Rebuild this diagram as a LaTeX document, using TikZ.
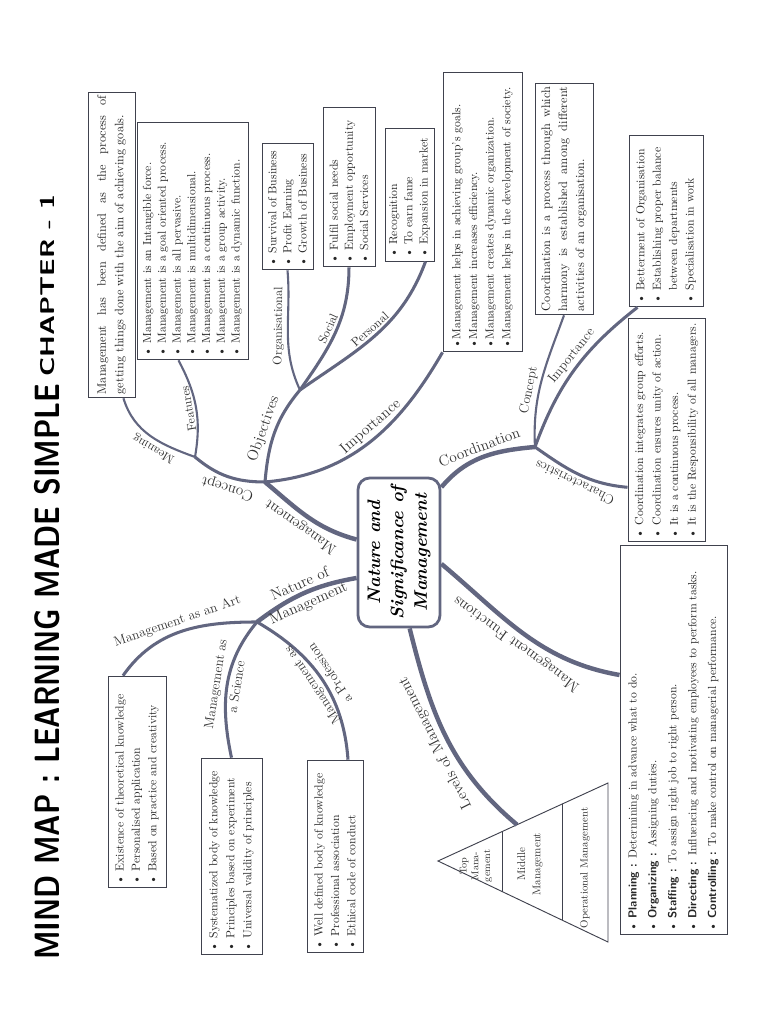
\documentclass[tikz,border=0pt]{standalone}
\usepackage{tikz}
\usetikzlibrary{calc}

\definecolor{branchgray}{RGB}{98,102,128}
\definecolor{boxgray}{RGB}{64,66,78}
\newcommand{\bpt}{\textbullet\ }

\begin{document}
\begin{tikzpicture}[x=0.3mm, y=0.3mm,
    mainbranch/.style={draw=branchgray, line width=3.8pt},
    subbranch/.style={draw=branchgray, line width=2.6pt},
    leafbranch/.style={draw=branchgray, line width=1.8pt},
    infobox/.style={draw=boxgray, line width=0.8pt, fill=white, inner sep=3pt,
        align=left, text=black!85},
    brlabel/.style={sloped, text=black!80, inner sep=2.5pt, font=\fontsize{13}{14}\selectfont},
    sublabel/.style={sloped, text=black!80, inner sep=2.5pt, font=\fontsize{11.5}{13}\selectfont},
    leaflabel/.style={sloped, text=black!80, inner sep=2pt, font=\fontsize{10.5}{12}\selectfont}]

\begin{scope}[rotate=90, transform shape]
\useasboundingbox (0,0) rectangle (1024,768);

% Title
\node[anchor=west, inner sep=0pt, font=\fontsize{30}{32}\sffamily\bfseries] (title) at (64,721)
    {\scalebox{0.83}[1]{MIND MAP : LEARNING MADE SIMPLE}};
\node[anchor=west, inner sep=0pt, font=\fontsize{17}{19}\sffamily\bfseries] (chapter) at ($(title.east)+(6,0)$)
    {\scalebox{1.38}[1]{CHAPTER - 1}};

% Centre
\node[draw=branchgray, line width=2.4pt, rounded corners=10, fill=white, minimum width=44.7mm,
    minimum height=24.6mm, align=center, font=\fontsize{15.5}{20}\selectfont\bfseries\itshape]
    (nsm) at (471.5,369) {Nature and\\Significance of\\Management};

% Concept of management
\node[infobox, align=justify, text width=89.6mm, minimum height=14.1mm, font=\fontsize{10.5}{15}\selectfont]
    (meaning) at (779,656.5) {Management has been defined as the process of\linebreak
    getting things done with the aim of achieving goals.};
\node[infobox, text width=69.2mm, minimum height=33.3mm, font=\fontsize{10}{12.6}\selectfont]
    (features) at (783,575.5) {\bpt Management is an Intangible force.\\
    \bpt Management is a goal oriented process.\\
    \bpt Management is all pervasive.\\
    \bpt Management is multidimensional.\\
    \bpt Management is a continuous process.\\
    \bpt Management is a group activity.\\
    \bpt Management is a dynamic function.};
\node[infobox, text width=35.9mm, minimum height=15.3mm, font=\fontsize{10}{13}\selectfont]
    (orgbox) at (817.5,480.5) {\bpt Survival of Business\\\bpt Profit Earning\\\bpt Growth of Business};
\node[infobox, text width=45.8mm, minimum height=15.6mm, font=\fontsize{10}{13}\selectfont]
    (socialbox) at (837,419) {\bpt Fulfil social needs\\\bpt Employment opportunity\\\bpt Social Services};
\node[infobox, text width=37.6mm, minimum height=14.7mm, font=\fontsize{10}{13}\selectfont]
    (personalbox) at (829,358.5) {\bpt Recognition\\\bpt To earn fame\\\bpt Expansion in market};
\node[infobox, text width=81.8mm, minimum height=23.7mm, font=\fontsize{10}{14.2}\selectfont]
    (impbox) at (812,285.5) {\textbullet Management helps in achieving group's goals.\\
    \textbullet Management increases efficiency.\\
    \textbullet Management creates dynamic organization.\\
    \textbullet Management helps in the development of society.};

% Coordination
\node[infobox, align=justify, text width=67.4mm, minimum height=17.4mm, font=\fontsize{10.5}{14.5}\selectfont]
    (cconcept) at (825,204) {Coordination is a process through which\linebreak
    harmony is established among different\linebreak activities of an organisation.};
\node[infobox, text width=49.4mm, minimum height=22.2mm, font=\fontsize{10}{14}\selectfont]
    (cimp) at (803,102) {\bpt Betterment of Organisation\\\bpt Establishing proper balance\\
    \phantom{\bpt}between departments\\\bpt Specialisation in work};
\node[infobox, text width=65mm, minimum height=23.1mm, font=\fontsize{10}{15}\selectfont]
    (cchar) at (594,101.5) {\bpt Coordination integrates group efforts.\\
    \bpt Coordination ensures unity of action.\\
    \bpt It is a continuous process.\\
    \bpt It is the Responsibility of all managers.};

% Functions
\node[infobox, text width=114.8mm, minimum height=32.1mm, font=\fontsize{10}{17}\selectfont]
    (functions) at (284,94.5) {\bpt {\sffamily\bfseries Planning :} Determining in advance what to do.\\
    \bpt {\sffamily\bfseries Organizing :} Assigning duties.\\
    \bpt {\sffamily\bfseries Staffing :} To assign right job to right person.\\
    \bpt {\sffamily\bfseries Directing :} Influencing and motivating employees to perform tasks.\\
    \bpt {\sffamily\bfseries Controlling :} To make control on managerial performance.};

% Nature of management
\node[infobox, text width=61.4mm, minimum height=17.4mm, font=\fontsize{10}{14}\selectfont]
    (artbox) at (242,631) {\bpt Existence of theoretical knowledge\\\bpt Personalised application\\
    \bpt Based on practice and creativity};
\node[infobox, text width=56.9mm, minimum height=18.3mm, font=\fontsize{10}{14.5}\selectfont]
    (sciencebox) at (167.5,536.5) {\bpt Systematized body of knowledge\\\bpt Principles based on experiment\\
    \bpt Universal validity of principles};
\node[infobox, text width=55.7mm, minimum height=16.8mm, font=\fontsize{10}{14}\selectfont]
    (profbox) at (167.5,433) {\bpt Well defined body of knowledge\\\bpt Professional association\\
    \bpt Ethical code of conduct};

% Levels pyramid
\coordinate (apex) at (163,330);
\coordinate (baseL) at (82,160);
\coordinate (baseR) at (241,160);
\draw[boxgray, line width=0.8pt] (apex) -- (baseR) -- (baseL) -- cycle;
\draw[boxgray, line width=0.8pt] ($(apex)!0.382!(baseL)$) -- ($(apex)!0.382!(baseR)$);
\draw[boxgray, line width=0.8pt] ($(apex)!0.73!(baseL)$) -- ($(apex)!0.73!(baseR)$);
\node[align=center, text=black!80, font=\fontsize{8.5}{10}\selectfont] (toplevel) at (158,292) {Top\\Mana-\\gement};
\node[align=center, text=black!80, font=\fontsize{9.5}{13}\selectfont] (midlevel) at (160,238) {Middle\\Management};
\node[text=black!80, font=\fontsize{9}{11}\selectfont] (oplevel) at (156,183) {Operational Management};
\coordinate (lvl) at ($(apex)!0.465!(baseR)$);

% Junctions
\coordinate (jconcept) at (542,503);
\coordinate (jmeaning) at (567,573);
\coordinate (jobj) at (634,468);
\coordinate (jcoord) at (577,233);
\coordinate (jnature) at (402,511);

% Branches: concept side
\draw[mainbranch] (nsm.73) to[out=75,in=230] node[brlabel, above] {Management} (jconcept);
\draw[subbranch] (jconcept) to[out=90,in=230] node[brlabel, above, pos=0.45] {Concept} (jmeaning);
\draw[leafbranch] (jmeaning) to[out=70,in=197] node[leaflabel, above, pos=0.4] {Meaning} ($(meaning.south west)+(0,12)$);
\draw[leafbranch] (jmeaning) to[out=-10,in=208] node[leaflabel, above] {Features} ($(features.west)+(0,14)$);
\draw[subbranch] (jconcept) to[out=-5,in=140] node[brlabel, above] {Objectives} (jobj);
\draw[leafbranch] (jobj) to[out=25,in=185] node[leaflabel, above, pos=0.55] {Organisational} (orgbox.west);
\draw[subbranch] (jobj) to[out=-35,in=180] node[leaflabel, above] {Social} (socialbox.west);
\draw[subbranch] (jobj) to[out=-55,in=160] node[leaflabel, above] {Personal} ($(personalbox.south west)+(0,9)$);
\draw[subbranch] (jconcept) to[out=-85,in=150] node[brlabel, above, pos=0.55] {Importance} (impbox.north west);

% Branches: coordination
\draw[mainbranch] (nsm.-33) to[out=-40,in=95] node[brlabel, above] {Coordination} (jcoord);
\draw[leafbranch] (jcoord) to[out=3,in=160] node[sublabel, above, pos=0.4] {Concept} (cconcept.west);
\draw[subbranch] (jcoord) to[out=-20,in=128] node[sublabel, above, pos=0.55] {Importance} ($(cimp.north west)+(0,-9)$);
\draw[subbranch] ($(cchar.north west)+(55,0)$) to[out=85,in=235] node[sublabel, above] {Characteristics} (jcoord);

% Branches: nature of management
\draw[mainbranch] (jnature) to[out=-53,in=100] node[brlabel, above] {Nature of} node[brlabel, below] {Management} (nsm.121);
\draw[subbranch] ($(artbox.east)+(0,14)$) to[out=-35,in=90] node[sublabel, above] {Management as an Art} (jnature);
\draw[subbranch] (sciencebox.east) to[out=12,in=140] node[sublabel, above] {Management as} node[sublabel, below] {a Science} (jnature);
\draw[subbranch] ($(profbox.east)+(0,-13)$) to[out=4,in=240] node[sublabel, above] {Management as} node[sublabel, below] {a Profession} (jnature);

% Branches: functions and levels
\draw[mainbranch] ($(functions.north)+(65,0)$) to[out=80,in=230] node[brlabel, above] {Management Functions} (nsm.-105);
\draw[mainbranch] (lvl) to[out=50,in=194] node[brlabel, above] {Levels of Management} (nsm.188);
\end{scope}
\end{tikzpicture}
\end{document}
